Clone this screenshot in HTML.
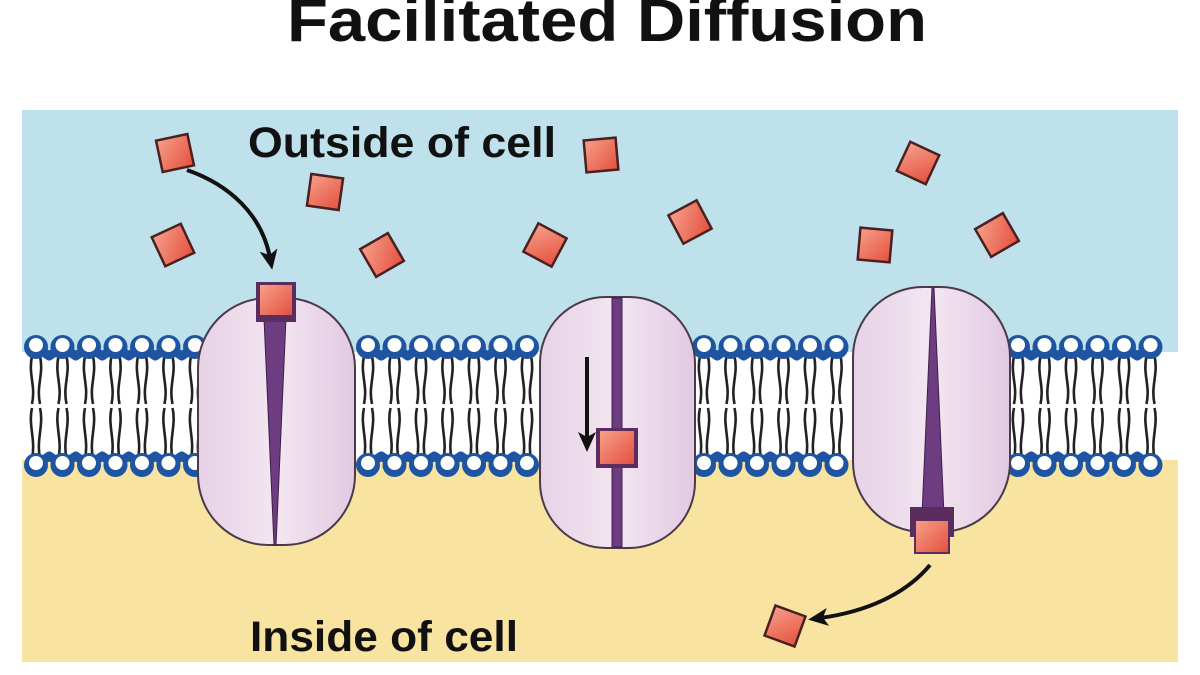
<!DOCTYPE html>
<html><head><meta charset="utf-8"><style>
html,body{margin:0;padding:0;background:#fff;width:1200px;height:675px;overflow:hidden}
svg{display:block}
text{font-family:"Liberation Sans",Arial,sans-serif;font-weight:bold;fill:#111}
</style></head><body>
<svg id="s" width="1200" height="675" viewBox="0 0 1200 675" xmlns="http://www.w3.org/2000/svg">
<defs>
<linearGradient id="prot" x1="0" x2="1" y1="0" y2="0">
<stop offset="0" stop-color="#e6d2e6"/><stop offset="0.5" stop-color="#f3e6f1"/><stop offset="1" stop-color="#e2c9e2"/>
</linearGradient>
<linearGradient id="sq" x1="0" x2="1" y1="0" y2="1">
<stop offset="0" stop-color="#f6a08a"/><stop offset="1" stop-color="#e4503e"/>
</linearGradient>
<marker id="ah" markerWidth="22" markerHeight="22" refX="8" refY="11" orient="auto" markerUnits="userSpaceOnUse" viewBox="0 0 22 22">
<path d="M0,2 L20,11 L0,20 L5,11 z" fill="#111"/>
</marker>
</defs>
<text x="607" y="41" font-size="60" text-anchor="middle" textLength="640" lengthAdjust="spacingAndGlyphs">Facilitated Diffusion</text>
<rect x="22" y="110" width="1156" height="260" fill="#bfe1ec"/>
<rect x="22" y="370" width="1156" height="292" fill="#f8e4a0"/>
<rect x="22" y="352" width="1156" height="108" fill="#fff"/>
<g id="mem"></g>
<g id="prots">
<rect x="198" y="298" width="157" height="247" rx="70" ry="70" fill="url(#prot)" stroke="#4a3a4a" stroke-width="2"/>
<path d="M264,318 L286,318 L276,545 L274,545 z" fill="#6e3c80" stroke="#3d1f4a" stroke-width="1"/>
<rect x="256" y="282" width="40" height="40" fill="#5b2d5f"/>
<rect x="260" y="285" width="32" height="30" fill="url(#sq)"/>
<rect x="540" y="297" width="155" height="251" rx="66" ry="66" fill="url(#prot)" stroke="#4a3a4a" stroke-width="2"/>
<rect x="612" y="298" width="10" height="249" fill="#6e3c80" stroke="#3d1f4a" stroke-width="1"/>
<rect x="596" y="428" width="42" height="40" fill="#5b2d5f"/>
<rect x="600" y="431" width="34" height="33" fill="url(#sq)"/>
<rect x="853" y="287" width="157" height="245" rx="70" ry="70" fill="url(#prot)" stroke="#4a3a4a" stroke-width="2"/>
<path d="M932,288 L934,288 L944,515 L922,515 z" fill="#6e3c80" stroke="#3d1f4a" stroke-width="1"/>
<rect x="910" y="507" width="44" height="30" fill="#5b2d5f"/>
<rect x="915" y="520" width="34" height="33" fill="url(#sq)" stroke="#5b2d5f" stroke-width="2"/>
</g>
<g id="sqs"></g>
<path d="M187,170 C230,185 262,215 270,258" fill="none" stroke="#111" stroke-width="4" marker-end="url(#ah)"/>
<path d="M587,357 L587,440" fill="none" stroke="#111" stroke-width="4" marker-end="url(#ah)"/>
<path d="M930,565 C905,595 865,612 820,618" fill="none" stroke="#111" stroke-width="4" marker-end="url(#ah)"/>
<text x="248" y="157" font-size="43" textLength="308" lengthAdjust="spacingAndGlyphs">Outside of cell</text>
<text x="250" y="651" font-size="43" textLength="268" lengthAdjust="spacingAndGlyphs">Inside of cell</text>
</svg>
<script>
var NS="http://www.w3.org/2000/svg";
function el(t,a,p){var e=document.createElementNS(NS,t);for(var k in a)e.setAttribute(k,a[k]);p.appendChild(e);return e;}
var mem=document.getElementById("mem");
var segs=[[24,200],[356,544],[692,858],[1006,1178]];
segs.forEach(function(s){
 var xs=[];for(var x=s[0]+12;x<s[1]-4;x+=26.5)xs.push(x);
 xs.forEach(function(x){
  var d="M"+(x-4)+",356 C"+(x-8)+",375 "+(x)+",385 "+(x-4)+",404 M"+(x+4)+",356 C"+(x+8)+",375 "+(x)+",385 "+(x+4)+",404";
  d+=" M"+(x-4)+",408 C"+(x-8)+",425 "+(x)+",440 "+(x-4)+",458 M"+(x+4)+",408 C"+(x+8)+",425 "+(x)+",440 "+(x+4)+",458";
  el("path",{d:d,fill:"none",stroke:"#222","stroke-width":"2.6"},mem);
 });
 [[347,1],[465,-1]].forEach(function(r){
  var pts=[];xs.forEach(function(x,i){pts.push(x+","+r[0]);if(i<xs.length-1)pts.push((x+13.25)+","+(r[0]+r[1]*9));});
  el("polyline",{points:pts.join(" "),fill:"none",stroke:"#1e55a3","stroke-width":"9","stroke-linejoin":"round"},mem);
  xs.forEach(function(x){
   el("circle",{cx:x,cy:r[0],r:12,fill:"#1e55a3"},mem);
   el("circle",{cx:x,cy:r[0]-2,r:7,fill:"#fff"},mem);
  });
 });
});
var sqs=document.getElementById("sqs");
var P=[[175,153,-12],[325,192,8],[173,245,-25],[382,255,-30],[601,155,-5],[545,245,28],[690,222,-28],[918,163,25],[875,245,5],[997,235,-30],[785,626,20]];
P.forEach(function(p){
 var g=el("g",{transform:"translate("+p[0]+","+p[1]+") rotate("+p[2]+")"},sqs);
 el("rect",{x:-16,y:-16,width:32,height:32,fill:"url(#sq)",stroke:"#4a2020","stroke-width":"2.5"},g);
});
</script>
</body></html>
